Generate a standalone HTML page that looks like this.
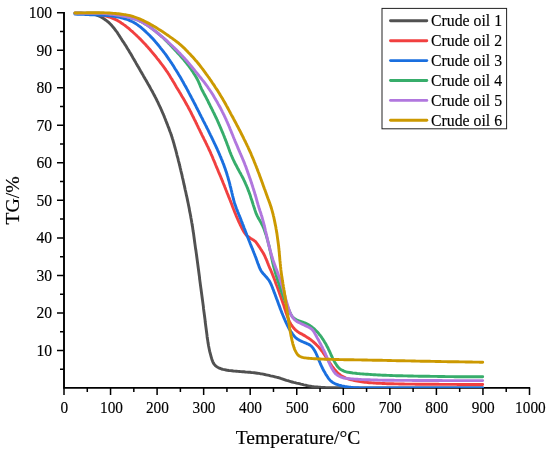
<!DOCTYPE html>
<html><head><meta charset="utf-8"><title>TG curves</title>
<style>
html,body{margin:0;padding:0;background:#fff;}
svg{display:block;}
text{font-family:"Liberation Serif",serif;fill:#000;stroke:#000;stroke-width:0.16px;}
</style></head><body>
<svg width="550" height="455" viewBox="0 0 550 455">
<rect width="550" height="455" fill="#fff"/>

<g stroke="#000" fill="none">
<path stroke-width="1.9" d="M64.0 11.9 V387.90 H530.2"/>
<path stroke-width="1.5" d="M64.00 369.24 h-4.0 M64.00 350.47 h-7.0 M64.00 331.70 h-4.0 M64.00 312.94 h-7.0 M64.00 294.18 h-4.0 M64.00 275.41 h-7.0 M64.00 256.64 h-4.0 M64.00 237.88 h-7.0 M64.00 219.12 h-4.0 M64.00 200.35 h-7.0 M64.00 181.58 h-4.0 M64.00 162.82 h-7.0 M64.00 144.06 h-4.0 M64.00 125.29 h-7.0 M64.00 106.52 h-4.0 M64.00 87.76 h-7.0 M64.00 69.00 h-4.0 M64.00 50.23 h-7.0 M64.00 31.46 h-4.0 M64.00 12.70 h-7.0 M64.00 388.00 v7.0 M87.28 388.00 v4.0 M110.55 388.00 v7.0 M133.82 388.00 v4.0 M157.10 388.00 v7.0 M180.38 388.00 v4.0 M203.65 388.00 v7.0 M226.93 388.00 v4.0 M250.20 388.00 v7.0 M273.48 388.00 v4.0 M296.75 388.00 v7.0 M320.03 388.00 v4.0 M343.30 388.00 v7.0 M366.57 388.00 v4.0 M389.85 388.00 v7.0 M413.12 388.00 v4.0 M436.40 388.00 v7.0 M459.68 388.00 v4.0 M482.95 388.00 v7.0 M506.23 388.00 v4.0 M529.50 388.00 v7.0"/>
</g>
<clipPath id="plotclip"><rect x="60" y="0" width="480" height="388.1"/></clipPath>
<g fill="none" stroke-width="2.9" stroke-linecap="round" stroke-linejoin="round" clip-path="url(#plotclip)">
<path stroke="#515151" d="M75.0 13.2 L77.5 13.2 L78.5 13.3 L79.8 13.3 L81.1 13.3 L82.6 13.4 L84.0 13.4 L85.5 13.5 L87.0 13.6 L88.5 13.7 L90.0 13.8 L91.5 14.0 L93.0 14.2 L94.4 14.5 L95.9 14.8 L97.3 15.3 L98.7 15.9 L100.0 16.5 L101.4 17.2 L102.7 18.0 L103.9 18.8 L105.2 19.7 L106.4 20.5 L107.5 21.5 L108.7 22.4 L109.8 23.5 L110.8 24.5 L111.8 25.6 L112.8 26.8 L113.8 27.9 L114.7 29.1 L115.6 30.3 L116.5 31.5 L117.4 32.7 L118.2 34.0 L119.0 35.2 L119.8 36.5 L120.6 37.8 L121.4 39.0 L122.2 40.3 L123.1 41.6 L123.9 42.8 L124.7 44.1 L125.5 45.3 L126.3 46.6 L127.1 47.9 L127.9 49.2 L128.7 50.4 L129.4 51.7 L130.2 53.0 L131.0 54.3 L131.7 55.6 L132.5 56.9 L133.2 58.2 L134.0 59.5 L134.7 60.8 L135.5 62.1 L136.2 63.4 L137.0 64.7 L137.7 66.0 L138.5 67.3 L139.2 68.6 L140.0 69.9 L140.7 71.2 L141.5 72.5 L142.2 73.8 L143.0 75.1 L143.7 76.4 L144.5 77.7 L145.2 79.0 L146.0 80.3 L146.7 81.6 L147.5 82.9 L148.2 84.2 L149.0 85.5 L149.7 86.8 L150.4 88.1 L151.1 89.4 L151.9 90.7 L152.6 92.0 L153.3 93.4 L154.0 94.7 L154.7 96.0 L155.4 97.4 L156.1 98.7 L156.7 100.0 L157.4 101.4 L158.1 102.7 L158.7 104.1 L159.3 105.4 L160.0 106.8 L160.6 108.2 L161.2 109.5 L161.8 110.9 L162.4 112.3 L163.0 113.7 L163.6 115.0 L164.2 116.4 L164.7 117.8 L165.3 119.2 L165.8 120.6 L166.4 122.0 L166.9 123.4 L167.5 124.8 L168.0 126.2 L168.6 127.6 L169.1 129.0 L169.6 130.4 L170.1 131.8 L170.7 133.2 L171.1 134.6 L171.6 136.0 L172.1 137.5 L172.5 138.9 L173.0 140.3 L173.4 141.8 L173.8 143.2 L174.2 144.7 L174.6 146.1 L175.0 147.5 L175.4 149.0 L175.8 150.4 L176.2 151.9 L176.6 153.4 L176.9 154.8 L177.3 156.3 L177.7 157.7 L178.1 159.2 L178.4 160.6 L178.8 162.1 L179.2 163.5 L179.5 165.0 L179.9 166.4 L180.2 167.9 L180.6 169.4 L180.9 170.8 L181.3 172.3 L181.6 173.7 L182.0 175.2 L182.3 176.7 L182.6 178.1 L183.0 179.6 L183.3 181.0 L183.6 182.5 L183.9 184.0 L184.3 185.4 L184.6 186.9 L184.9 188.4 L185.2 189.8 L185.6 191.3 L185.9 192.8 L186.2 194.2 L186.5 195.7 L186.9 197.2 L187.2 198.6 L187.5 200.1 L187.8 201.6 L188.1 203.0 L188.4 204.5 L188.7 206.0 L189.0 207.4 L189.3 208.9 L189.5 210.4 L189.8 211.9 L190.1 213.3 L190.4 214.8 L190.7 216.3 L190.9 217.8 L191.2 219.2 L191.5 220.7 L191.7 222.2 L192.0 223.7 L192.2 225.1 L192.5 226.6 L192.7 228.1 L192.9 229.6 L193.1 231.1 L193.4 232.6 L193.6 234.0 L193.8 235.5 L194.0 237.0 L194.2 238.5 L194.4 240.0 L194.6 241.5 L194.8 243.0 L195.0 244.4 L195.2 245.9 L195.4 247.4 L195.6 248.9 L195.9 250.4 L196.1 251.9 L196.3 253.4 L196.5 254.8 L196.7 256.3 L196.9 257.8 L197.1 259.3 L197.3 260.8 L197.5 262.3 L197.7 263.8 L197.9 265.2 L198.1 266.7 L198.3 268.2 L198.5 269.7 L198.7 271.2 L198.9 272.7 L199.1 274.2 L199.3 275.7 L199.5 277.1 L199.6 278.6 L199.8 280.1 L200.0 281.6 L200.2 283.1 L200.4 284.6 L200.6 286.1 L200.8 287.6 L201.0 289.0 L201.2 290.5 L201.4 292.0 L201.6 293.5 L201.8 295.0 L202.0 296.5 L202.2 298.0 L202.4 299.5 L202.6 300.9 L202.8 302.4 L203.0 303.9 L203.2 305.4 L203.4 306.9 L203.5 308.4 L203.7 309.9 L203.9 311.4 L204.1 312.8 L204.3 314.3 L204.5 315.8 L204.7 317.3 L204.9 318.8 L205.1 320.3 L205.2 321.8 L205.4 323.3 L205.6 324.7 L205.8 326.2 L206.0 327.7 L206.2 329.2 L206.4 330.7 L206.6 332.2 L206.8 333.7 L207.0 335.2 L207.1 336.7 L207.3 338.1 L207.6 339.6 L207.8 341.1 L208.0 342.6 L208.3 344.1 L208.5 345.5 L208.8 347.0 L209.1 348.5 L209.4 350.0 L209.7 351.4 L210.1 352.9 L210.5 354.3 L210.9 355.8 L211.3 357.3 L211.7 358.7 L212.2 360.2 L212.7 361.6 L213.3 362.9 L214.1 364.1 L215.1 365.3 L216.3 366.3 L217.5 367.2 L218.7 367.8 L220.1 368.4 L221.5 369.0 L223.0 369.4 L224.5 369.7 L226.0 370.0 L227.4 370.3 L228.9 370.5 L230.4 370.6 L231.9 370.8 L233.4 371.0 L234.9 371.1 L236.4 371.2 L237.9 371.4 L239.4 371.5 L240.9 371.6 L242.4 371.7 L243.9 371.8 L245.4 372.0 L246.9 372.1 L248.4 372.2 L249.9 372.3 L251.3 372.5 L252.8 372.6 L254.3 372.8 L255.8 373.0 L257.3 373.2 L258.8 373.4 L260.3 373.7 L261.7 373.9 L263.2 374.2 L264.7 374.5 L266.1 374.8 L267.6 375.1 L269.1 375.4 L270.5 375.8 L272.0 376.1 L273.5 376.4 L274.9 376.8 L276.4 377.2 L277.8 377.5 L279.3 377.9 L280.7 378.4 L282.1 378.8 L283.6 379.3 L285.0 379.8 L286.4 380.3 L287.8 380.7 L289.3 381.2 L290.7 381.6 L292.1 382.0 L293.6 382.4 L295.0 382.7 L296.5 383.1 L298.0 383.4 L299.4 383.7 L300.9 384.1 L302.3 384.4 L303.8 384.8 L305.3 385.1 L306.7 385.5 L308.2 385.8 L309.7 386.1 L311.1 386.3 L312.6 386.6 L314.1 386.8 L315.6 386.9 L317.1 387.0 L318.6 387.2 L320.0 387.3 L321.5 387.4 L323.0 387.4 L324.5 387.5 L326.0 387.6 L327.5 387.6 L329.0 387.7 L330.6 387.7 L332.1 387.7 L333.6 387.8 L335.1 387.8 L336.6 387.8 L338.1 387.8 L339.6 387.8 L341.1 387.8 L342.6 387.8 L344.1 387.8 L345.6 387.8 L347.1 387.8 L348.6 387.8 L350.1 387.8 L351.5 387.9 L353.0 387.9 L354.5 387.9 L356.0 387.9 L357.5 387.9 L359.0 387.9 L360.5 387.9 L362.0 387.9 L363.5 387.9 L365.0 387.9 L366.5 387.9 L368.0 387.9 L369.5 387.9 L371.0 387.9 L372.5 387.9 L374.0 387.9 L375.5 387.9 L377.0 387.9 L378.5 387.9 L380.0 387.9 L381.5 387.9 L383.0 387.9 L384.5 387.9 L386.0 387.9 L387.5 387.9 L389.0 387.9 L390.5 387.9 L392.0 387.9 L393.5 387.9 L395.0 387.9 L396.5 387.9 L398.0 387.9 L399.5 388.0 L401.0 388.0 L402.5 388.0 L404.0 388.0 L405.5 388.0 L407.0 388.0 L408.5 388.0 L410.0 388.0 L411.5 388.0 L413.0 388.0 L414.5 388.0 L416.0 388.0 L417.5 388.0 L419.0 388.0 L420.5 388.0 L422.0 388.0 L423.5 388.0 L425.0 388.0 L426.5 388.0 L428.0 388.0 L429.5 388.0 L431.0 388.0 L432.5 388.0 L434.0 388.0 L435.5 388.0 L437.0 388.0 L438.5 388.0 L440.0 388.0 L441.5 388.0 L443.0 388.0 L444.5 388.0 L446.0 388.0 L447.5 388.0 L449.0 388.0 L450.5 388.0 L452.0 388.0 L453.5 388.0 L455.0 388.0 L456.5 388.0 L458.0 388.0 L459.5 388.0 L461.0 388.0 L462.5 388.0 L464.0 388.0 L465.5 388.0 L467.0 388.0 L468.5 388.0 L470.0 388.0 L471.5 388.0 L473.0 388.0 L474.5 388.0 L476.0 388.0 L477.4 388.0 L478.7 388.0 L479.8 388.0 L480.8 388.0 L482.7 388.0"/>
<path stroke="#F14040" d="M75.0 13.2 L77.5 13.2 L78.5 13.2 L79.8 13.3 L81.1 13.3 L82.6 13.3 L84.0 13.4 L85.5 13.4 L87.0 13.5 L88.5 13.6 L90.0 13.6 L91.5 13.8 L93.0 13.9 L94.5 14.0 L96.0 14.2 L97.4 14.4 L98.9 14.6 L100.4 14.9 L101.9 15.2 L103.3 15.5 L104.8 15.8 L106.2 16.2 L107.7 16.6 L109.1 17.0 L110.5 17.5 L112.0 18.0 L113.3 18.6 L114.7 19.2 L116.1 19.8 L117.4 20.5 L118.7 21.3 L120.0 22.0 L121.2 22.9 L122.5 23.7 L123.7 24.6 L124.9 25.4 L126.1 26.4 L127.3 27.3 L128.4 28.2 L129.6 29.2 L130.7 30.2 L131.8 31.2 L133.0 32.2 L134.1 33.2 L135.2 34.2 L136.3 35.2 L137.3 36.3 L138.4 37.3 L139.5 38.4 L140.6 39.4 L141.6 40.5 L142.6 41.6 L143.7 42.7 L144.7 43.7 L145.7 44.8 L146.7 46.0 L147.7 47.1 L148.7 48.2 L149.7 49.3 L150.7 50.5 L151.6 51.6 L152.6 52.8 L153.6 53.9 L154.5 55.1 L155.5 56.2 L156.4 57.4 L157.3 58.6 L158.3 59.8 L159.2 60.9 L160.1 62.1 L161.0 63.3 L161.9 64.5 L162.8 65.7 L163.7 66.9 L164.6 68.1 L165.5 69.4 L166.3 70.6 L167.2 71.8 L168.0 73.1 L168.8 74.3 L169.6 75.6 L170.4 76.9 L171.2 78.2 L172.0 79.4 L172.7 80.7 L173.5 82.0 L174.3 83.3 L175.0 84.6 L175.8 85.9 L176.5 87.2 L177.3 88.5 L178.1 89.8 L178.9 91.1 L179.6 92.3 L180.4 93.6 L181.2 94.9 L181.9 96.2 L182.7 97.5 L183.5 98.8 L184.2 100.1 L185.0 101.4 L185.7 102.7 L186.4 104.0 L187.1 105.3 L187.9 106.6 L188.6 108.0 L189.3 109.3 L190.0 110.6 L190.7 111.9 L191.3 113.3 L192.0 114.6 L192.7 116.0 L193.4 117.3 L194.0 118.6 L194.7 120.0 L195.4 121.3 L196.0 122.7 L196.7 124.0 L197.3 125.4 L198.0 126.7 L198.6 128.1 L199.3 129.4 L200.0 130.8 L200.6 132.1 L201.3 133.5 L201.9 134.8 L202.6 136.2 L203.3 137.5 L203.9 138.8 L204.6 140.2 L205.3 141.5 L205.9 142.9 L206.6 144.2 L207.2 145.6 L207.9 146.9 L208.5 148.3 L209.1 149.7 L209.8 151.0 L210.4 152.4 L211.0 153.8 L211.6 155.1 L212.2 156.5 L212.8 157.9 L213.3 159.3 L213.9 160.7 L214.5 162.0 L215.1 163.4 L215.6 164.8 L216.2 166.2 L216.8 167.6 L217.4 169.0 L218.0 170.4 L218.5 171.7 L219.1 173.1 L219.7 174.5 L220.3 175.9 L220.9 177.3 L221.4 178.7 L222.0 180.0 L222.6 181.4 L223.1 182.8 L223.7 184.2 L224.3 185.6 L224.8 187.0 L225.4 188.4 L225.9 189.8 L226.5 191.2 L227.0 192.6 L227.6 194.0 L228.2 195.4 L228.7 196.8 L229.3 198.1 L229.8 199.5 L230.4 200.9 L230.9 202.3 L231.5 203.7 L232.0 205.1 L232.5 206.5 L233.1 207.9 L233.6 209.3 L234.2 210.7 L234.7 212.1 L235.3 213.5 L235.9 214.9 L236.4 216.3 L237.0 217.7 L237.6 219.0 L238.2 220.4 L238.8 221.8 L239.5 223.2 L240.1 224.5 L240.8 225.9 L241.4 227.2 L242.1 228.6 L242.8 229.9 L243.6 231.2 L244.3 232.4 L245.2 233.7 L246.1 234.9 L247.2 236.0 L248.3 236.8 L249.6 237.6 L250.8 238.4 L252.1 239.2 L253.3 239.9 L254.5 240.8 L255.6 241.7 L256.5 242.9 L257.4 244.1 L258.3 245.4 L259.1 246.7 L260.0 247.9 L260.8 249.2 L261.6 250.4 L262.4 251.7 L263.2 253.0 L263.9 254.3 L264.6 255.6 L265.2 257.0 L265.8 258.4 L266.4 259.7 L267.0 261.1 L267.5 262.5 L268.1 263.9 L268.6 265.3 L269.2 266.7 L269.8 268.1 L270.4 269.4 L271.0 270.8 L271.6 272.2 L272.2 273.6 L272.7 275.0 L273.3 276.4 L273.8 277.8 L274.4 279.2 L274.9 280.6 L275.4 282.0 L275.9 283.4 L276.4 284.8 L277.0 286.2 L277.5 287.6 L278.0 289.0 L278.5 290.4 L279.0 291.9 L279.5 293.3 L280.0 294.7 L280.5 296.1 L281.0 297.5 L281.5 298.9 L282.0 300.3 L282.5 301.8 L283.0 303.2 L283.5 304.6 L284.0 306.1 L284.4 307.5 L284.9 309.0 L285.4 310.4 L285.8 311.9 L286.3 313.3 L286.8 314.7 L287.3 316.2 L287.8 317.6 L288.4 318.9 L288.9 320.3 L289.5 321.6 L290.2 322.9 L290.9 324.2 L291.7 325.4 L292.6 326.7 L293.5 327.8 L294.6 329.0 L295.7 330.1 L296.8 331.0 L298.0 331.9 L299.2 332.7 L300.5 333.4 L301.9 334.1 L303.2 334.9 L304.5 335.6 L305.8 336.4 L307.0 337.2 L308.3 338.0 L309.5 338.8 L310.7 339.7 L311.9 340.7 L313.1 341.6 L314.2 342.6 L315.3 343.6 L316.4 344.7 L317.4 345.7 L318.5 346.8 L319.4 348.0 L320.4 349.1 L321.3 350.3 L322.2 351.5 L323.1 352.7 L323.9 353.9 L324.8 355.2 L325.6 356.4 L326.4 357.7 L327.2 359.0 L328.1 360.2 L328.9 361.5 L329.7 362.7 L330.6 364.0 L331.4 365.2 L332.3 366.5 L333.2 367.7 L334.1 368.8 L335.0 370.0 L336.0 371.1 L337.1 372.2 L338.2 373.2 L339.3 374.2 L340.5 375.1 L341.8 376.0 L343.0 376.7 L344.4 377.3 L345.7 378.0 L347.1 378.5 L348.6 379.0 L350.0 379.5 L351.5 379.9 L352.9 380.2 L354.4 380.6 L355.8 380.9 L357.3 381.1 L358.8 381.4 L360.3 381.6 L361.7 381.9 L363.2 382.1 L364.7 382.2 L366.2 382.4 L367.7 382.5 L369.2 382.7 L370.7 382.8 L372.2 382.9 L373.7 383.0 L375.2 383.1 L376.7 383.2 L378.2 383.3 L379.7 383.3 L381.2 383.4 L382.7 383.5 L384.2 383.5 L385.7 383.6 L387.2 383.7 L388.7 383.7 L390.2 383.8 L391.7 383.8 L393.2 383.8 L394.7 383.9 L396.2 383.9 L397.7 383.9 L399.2 384.0 L400.7 384.0 L402.2 384.0 L403.7 384.0 L405.2 384.1 L406.7 384.1 L408.2 384.1 L409.7 384.1 L411.2 384.1 L412.7 384.1 L414.2 384.1 L415.7 384.2 L417.2 384.2 L418.7 384.2 L420.2 384.2 L421.7 384.2 L423.2 384.2 L424.7 384.2 L426.2 384.3 L427.7 384.3 L429.2 384.3 L430.7 384.3 L432.2 384.3 L433.7 384.3 L435.2 384.3 L436.7 384.3 L438.2 384.3 L439.7 384.4 L441.2 384.4 L442.7 384.4 L444.2 384.4 L445.7 384.4 L447.2 384.4 L448.7 384.4 L450.2 384.4 L451.7 384.4 L453.2 384.4 L454.7 384.4 L456.2 384.4 L457.7 384.5 L459.2 384.5 L460.7 384.5 L462.2 384.5 L463.7 384.5 L465.2 384.5 L466.7 384.5 L468.2 384.5 L469.7 384.5 L471.2 384.5 L472.7 384.5 L474.2 384.5 L475.6 384.5 L477.0 384.5 L478.4 384.5 L479.5 384.5 L480.6 384.5 L482.7 384.5"/>
<path stroke="#1A6FDF" d="M75.0 14.1 L77.5 14.2 L78.5 14.2 L79.8 14.3 L81.1 14.3 L82.5 14.4 L84.0 14.4 L85.5 14.5 L87.0 14.5 L88.5 14.6 L90.0 14.7 L91.5 14.7 L93.0 14.8 L94.5 14.9 L96.0 14.9 L97.5 15.0 L99.0 15.1 L100.5 15.2 L102.0 15.2 L103.5 15.3 L105.0 15.4 L106.5 15.5 L108.0 15.6 L109.5 15.8 L111.0 15.9 L112.4 16.1 L113.9 16.3 L115.4 16.5 L116.9 16.8 L118.3 17.1 L119.8 17.4 L121.3 17.8 L122.7 18.2 L124.1 18.6 L125.6 19.0 L127.0 19.5 L128.4 20.0 L129.8 20.6 L131.2 21.2 L132.5 21.8 L133.8 22.5 L135.1 23.3 L136.4 24.1 L137.6 24.9 L138.8 25.8 L140.0 26.7 L141.2 27.7 L142.3 28.6 L143.5 29.6 L144.6 30.6 L145.7 31.6 L146.8 32.7 L147.9 33.7 L148.9 34.7 L150.0 35.8 L151.0 36.9 L152.1 38.0 L153.1 39.1 L154.1 40.2 L155.1 41.3 L156.0 42.5 L157.0 43.6 L158.0 44.8 L158.9 45.9 L159.9 47.1 L160.8 48.3 L161.7 49.4 L162.7 50.6 L163.6 51.8 L164.5 53.0 L165.4 54.2 L166.3 55.4 L167.1 56.6 L168.0 57.9 L168.8 59.1 L169.7 60.3 L170.5 61.6 L171.4 62.8 L172.2 64.1 L173.0 65.3 L173.8 66.6 L174.6 67.9 L175.4 69.2 L176.2 70.4 L177.0 71.7 L177.8 73.0 L178.5 74.3 L179.3 75.6 L180.1 76.8 L180.8 78.1 L181.6 79.4 L182.3 80.7 L183.1 82.0 L183.8 83.4 L184.5 84.7 L185.3 86.0 L186.0 87.3 L186.7 88.6 L187.4 89.9 L188.1 91.2 L188.8 92.6 L189.5 93.9 L190.2 95.2 L190.9 96.5 L191.6 97.9 L192.3 99.2 L193.0 100.5 L193.7 101.9 L194.4 103.2 L195.1 104.5 L195.8 105.9 L196.4 107.2 L197.1 108.5 L197.8 109.9 L198.5 111.2 L199.2 112.6 L199.8 113.9 L200.5 115.2 L201.2 116.6 L201.9 117.9 L202.6 119.2 L203.2 120.6 L203.9 121.9 L204.6 123.2 L205.3 124.6 L206.0 125.9 L206.6 127.3 L207.3 128.6 L208.0 129.9 L208.7 131.3 L209.3 132.6 L210.0 134.0 L210.6 135.3 L211.3 136.7 L211.9 138.0 L212.6 139.4 L213.2 140.7 L213.9 142.1 L214.5 143.4 L215.2 144.8 L215.8 146.2 L216.4 147.5 L217.1 148.9 L217.7 150.3 L218.3 151.6 L218.9 153.0 L219.5 154.4 L220.1 155.8 L220.7 157.1 L221.2 158.5 L221.8 159.9 L222.4 161.3 L222.9 162.7 L223.5 164.1 L224.0 165.5 L224.5 166.9 L225.0 168.3 L225.5 169.7 L226.0 171.2 L226.5 172.6 L226.9 174.0 L227.3 175.4 L227.8 176.9 L228.2 178.3 L228.6 179.8 L229.0 181.2 L229.4 182.7 L229.8 184.1 L230.1 185.6 L230.5 187.0 L230.9 188.5 L231.2 189.9 L231.6 191.4 L231.9 192.8 L232.3 194.3 L232.6 195.8 L233.0 197.2 L233.3 198.7 L233.7 200.1 L234.1 201.6 L234.5 203.0 L235.0 204.4 L235.5 205.8 L236.0 207.3 L236.5 208.7 L237.1 210.1 L237.6 211.5 L238.2 212.8 L238.7 214.2 L239.3 215.6 L239.9 217.0 L240.4 218.4 L241.0 219.8 L241.5 221.2 L242.1 222.6 L242.6 224.0 L243.2 225.4 L243.7 226.8 L244.2 228.2 L244.8 229.6 L245.3 231.0 L245.8 232.4 L246.4 233.8 L246.9 235.2 L247.5 236.6 L248.0 238.0 L248.6 239.4 L249.1 240.8 L249.7 242.2 L250.2 243.6 L250.8 245.0 L251.3 246.4 L251.9 247.7 L252.5 249.1 L253.0 250.5 L253.6 251.9 L254.1 253.3 L254.7 254.7 L255.2 256.1 L255.8 257.5 L256.3 258.9 L256.8 260.4 L257.3 261.8 L257.8 263.2 L258.4 264.6 L258.9 266.0 L259.4 267.4 L260.0 268.8 L260.7 270.1 L261.4 271.4 L262.3 272.5 L263.3 273.7 L264.3 274.8 L265.3 275.9 L266.3 277.0 L267.3 278.2 L268.2 279.3 L269.1 280.5 L269.8 281.8 L270.5 283.1 L271.1 284.4 L271.7 285.8 L272.3 287.2 L272.8 288.6 L273.4 290.0 L273.9 291.4 L274.4 292.9 L275.0 294.3 L275.5 295.7 L276.0 297.1 L276.5 298.5 L277.1 299.9 L277.6 301.3 L278.1 302.7 L278.6 304.1 L279.2 305.6 L279.7 307.0 L280.2 308.4 L280.7 309.8 L281.3 311.2 L281.8 312.6 L282.4 314.0 L282.9 315.3 L283.5 316.7 L284.1 318.1 L284.7 319.5 L285.3 320.9 L285.9 322.3 L286.6 323.6 L287.2 325.0 L287.9 326.3 L288.6 327.7 L289.3 329.0 L290.1 330.3 L290.8 331.5 L291.7 332.7 L292.6 334.0 L293.5 335.2 L294.5 336.4 L295.5 337.5 L296.6 338.5 L297.8 339.3 L299.1 340.1 L300.4 340.7 L301.8 341.4 L303.2 342.0 L304.6 342.6 L306.0 343.2 L307.4 343.8 L308.7 344.4 L310.0 345.1 L311.1 346.0 L312.1 347.0 L313.0 348.2 L313.9 349.5 L314.7 350.8 L315.5 352.2 L316.1 353.5 L316.7 354.8 L317.3 356.2 L317.9 357.6 L318.5 359.0 L319.0 360.4 L319.6 361.8 L320.2 363.2 L320.8 364.6 L321.4 365.9 L322.1 367.3 L322.7 368.6 L323.4 370.0 L324.1 371.3 L324.9 372.6 L325.6 373.9 L326.4 375.2 L327.3 376.5 L328.1 377.8 L329.1 379.1 L330.0 380.2 L331.1 381.2 L332.2 382.1 L333.3 382.8 L334.7 383.5 L336.0 384.1 L337.5 384.6 L339.0 385.1 L340.4 385.5 L341.9 385.9 L343.4 386.2 L344.8 386.5 L346.3 386.7 L347.8 386.9 L349.3 387.1 L350.8 387.3 L352.3 387.4 L353.8 387.6 L355.3 387.7 L356.8 387.7 L358.3 387.8 L359.8 387.9 L361.3 387.9 L362.8 387.9 L364.3 388.0 L365.8 388.0 L367.3 388.0 L368.8 388.0 L370.3 388.0 L371.8 388.0 L373.3 388.0 L374.8 388.0 L376.3 388.0 L377.8 388.0 L379.3 388.0 L380.8 388.0 L382.3 388.0 L383.8 388.0 L385.3 388.0 L386.8 388.0 L388.3 388.0 L389.8 388.0 L391.3 388.0 L392.8 388.0 L394.3 388.0 L395.8 388.0 L397.3 388.0 L398.8 388.0 L400.3 388.0 L401.8 388.0 L403.3 388.0 L404.8 388.0 L406.3 388.0 L407.8 388.0 L409.3 388.0 L410.8 388.0 L412.3 388.0 L413.8 388.0 L415.3 388.0 L416.8 388.0 L418.3 388.0 L419.8 388.0 L421.3 388.0 L422.8 388.0 L424.3 388.0 L425.8 388.0 L427.3 388.0 L428.8 388.0 L430.3 388.0 L431.8 388.0 L433.3 388.0 L434.8 388.0 L436.3 388.0 L437.8 388.0 L439.3 388.0 L440.8 388.0 L442.3 388.0 L443.8 388.0 L445.3 388.0 L446.8 388.0 L448.3 388.0 L449.8 388.0 L451.3 388.0 L452.8 388.0 L454.3 388.0 L455.8 388.0 L457.3 388.0 L458.8 388.0 L460.3 388.0 L461.8 388.0 L463.3 388.0 L464.8 388.0 L466.3 388.0 L467.8 388.0 L469.3 388.0 L470.8 388.0 L472.3 388.0 L473.8 388.0 L475.2 388.0 L476.6 388.0 L478.0 388.0 L479.2 388.0 L480.3 388.0 L482.7 388.0"/>
<path stroke="#37AD6B" d="M75.0 13.2 L77.5 13.2 L78.5 13.2 L79.8 13.2 L81.1 13.2 L82.6 13.2 L84.0 13.2 L85.5 13.2 L87.0 13.2 L88.5 13.2 L90.0 13.2 L91.5 13.2 L93.0 13.3 L94.5 13.3 L96.0 13.3 L97.5 13.3 L99.0 13.3 L100.5 13.4 L102.0 13.4 L103.5 13.5 L105.0 13.6 L106.5 13.7 L108.0 13.9 L109.5 14.0 L111.0 14.2 L112.4 14.4 L113.9 14.6 L115.4 14.8 L116.9 15.1 L118.4 15.3 L119.9 15.5 L121.4 15.8 L122.8 16.0 L124.3 16.3 L125.8 16.6 L127.2 16.9 L128.7 17.3 L130.2 17.7 L131.6 18.1 L133.0 18.5 L134.5 18.9 L135.9 19.4 L137.3 20.0 L138.7 20.5 L140.0 21.2 L141.3 21.8 L142.7 22.5 L144.0 23.2 L145.2 24.0 L146.5 24.8 L147.8 25.6 L149.0 26.4 L150.2 27.3 L151.5 28.2 L152.7 29.1 L153.9 30.0 L155.1 31.0 L156.2 31.9 L157.4 32.9 L158.6 33.9 L159.7 34.8 L160.8 35.8 L162.0 36.8 L163.1 37.8 L164.2 38.8 L165.2 39.9 L166.3 40.9 L167.4 42.0 L168.4 43.1 L169.5 44.1 L170.5 45.2 L171.5 46.3 L172.6 47.4 L173.6 48.5 L174.6 49.6 L175.7 50.7 L176.7 51.8 L177.7 52.9 L178.7 54.0 L179.7 55.1 L180.7 56.2 L181.7 57.4 L182.7 58.5 L183.7 59.6 L184.6 60.8 L185.6 62.0 L186.5 63.1 L187.4 64.3 L188.3 65.5 L189.2 66.7 L190.1 67.9 L191.0 69.1 L191.8 70.4 L192.7 71.6 L193.5 72.9 L194.3 74.2 L195.1 75.4 L195.9 76.7 L196.6 78.0 L197.3 79.3 L198.0 80.7 L198.6 82.0 L199.2 83.4 L199.8 84.8 L200.3 86.1 L200.9 87.5 L201.5 88.9 L202.2 90.2 L202.9 91.5 L203.6 92.9 L204.3 94.2 L205.0 95.5 L205.7 96.8 L206.4 98.1 L207.1 99.5 L207.8 100.8 L208.4 102.2 L209.1 103.5 L209.8 104.9 L210.4 106.2 L211.1 107.5 L211.8 108.9 L212.5 110.2 L213.1 111.6 L213.8 112.9 L214.4 114.3 L215.1 115.6 L215.7 117.0 L216.4 118.3 L217.0 119.7 L217.6 121.0 L218.2 122.4 L218.8 123.8 L219.4 125.2 L220.0 126.5 L220.6 127.9 L221.2 129.3 L221.8 130.7 L222.4 132.1 L223.0 133.5 L223.5 134.8 L224.1 136.2 L224.6 137.6 L225.2 139.0 L225.7 140.4 L226.3 141.8 L226.8 143.2 L227.3 144.6 L227.9 146.0 L228.4 147.4 L228.9 148.9 L229.4 150.3 L229.9 151.7 L230.5 153.1 L231.0 154.5 L231.6 155.8 L232.2 157.2 L232.8 158.6 L233.4 159.9 L234.1 161.3 L234.7 162.6 L235.4 164.0 L236.1 165.3 L236.8 166.6 L237.5 168.0 L238.2 169.3 L238.9 170.6 L239.6 171.9 L240.4 173.2 L241.1 174.6 L241.8 175.9 L242.5 177.2 L243.2 178.5 L243.8 179.9 L244.5 181.2 L245.1 182.6 L245.7 184.0 L246.3 185.3 L246.9 186.7 L247.5 188.1 L248.0 189.5 L248.5 190.9 L249.1 192.3 L249.6 193.7 L250.1 195.1 L250.6 196.6 L251.0 198.0 L251.5 199.4 L252.0 200.8 L252.4 202.3 L252.9 203.7 L253.3 205.1 L253.8 206.6 L254.3 208.0 L254.7 209.4 L255.2 210.9 L255.7 212.3 L256.2 213.7 L256.8 215.0 L257.5 216.4 L258.2 217.7 L258.9 219.0 L259.7 220.3 L260.4 221.6 L261.1 222.9 L261.8 224.2 L262.5 225.5 L263.1 226.9 L263.7 228.3 L264.2 229.6 L264.7 231.1 L265.2 232.5 L265.7 233.9 L266.2 235.3 L266.6 236.8 L267.0 238.2 L267.4 239.7 L267.8 241.1 L268.2 242.6 L268.6 244.0 L268.9 245.5 L269.3 246.9 L269.6 248.4 L269.9 249.9 L270.3 251.3 L270.6 252.8 L270.9 254.3 L271.2 255.7 L271.5 257.2 L271.8 258.7 L272.2 260.1 L272.5 261.6 L272.8 263.1 L273.2 264.5 L273.5 266.0 L273.9 267.4 L274.3 268.9 L274.7 270.3 L275.1 271.8 L275.5 273.2 L275.9 274.6 L276.4 276.1 L276.8 277.5 L277.3 278.9 L277.7 280.4 L278.2 281.8 L278.7 283.2 L279.2 284.6 L279.6 286.1 L280.1 287.5 L280.6 288.9 L281.1 290.3 L281.6 291.7 L282.1 293.1 L282.6 294.5 L283.2 296.0 L283.7 297.4 L284.2 298.8 L284.8 300.2 L285.3 301.6 L285.9 303.0 L286.5 304.3 L287.0 305.7 L287.6 307.1 L288.2 308.5 L288.9 309.9 L289.5 311.3 L290.1 312.7 L290.8 314.1 L291.5 315.4 L292.3 316.6 L293.2 317.6 L294.4 318.5 L295.7 319.3 L297.0 320.0 L298.4 320.6 L299.8 321.1 L301.2 321.6 L302.7 322.1 L304.1 322.7 L305.4 323.2 L306.8 323.8 L308.2 324.5 L309.4 325.2 L310.7 326.1 L311.9 327.0 L313.0 327.9 L314.2 328.9 L315.3 330.0 L316.3 331.0 L317.4 332.1 L318.4 333.2 L319.3 334.4 L320.3 335.5 L321.1 336.7 L322.0 337.9 L322.8 339.2 L323.7 340.5 L324.4 341.7 L325.2 343.0 L326.0 344.3 L326.7 345.7 L327.4 347.0 L328.1 348.3 L328.7 349.7 L329.4 351.0 L330.0 352.4 L330.6 353.8 L331.2 355.2 L331.9 356.5 L332.5 357.9 L333.2 359.2 L333.9 360.6 L334.6 361.9 L335.4 363.2 L336.2 364.5 L337.0 365.8 L338.0 367.0 L339.0 368.1 L340.0 369.0 L341.2 369.7 L342.6 370.4 L344.0 371.1 L345.4 371.6 L346.9 372.0 L348.3 372.3 L349.8 372.5 L351.3 372.7 L352.7 373.0 L354.2 373.1 L355.7 373.3 L357.2 373.5 L358.7 373.6 L360.2 373.8 L361.7 373.9 L363.2 374.0 L364.7 374.1 L366.2 374.2 L367.7 374.3 L369.2 374.4 L370.7 374.5 L372.2 374.6 L373.7 374.7 L375.2 374.8 L376.7 374.9 L378.2 375.0 L379.7 375.0 L381.2 375.1 L382.7 375.2 L384.2 375.2 L385.7 375.3 L387.2 375.4 L388.7 375.4 L390.2 375.5 L391.7 375.5 L393.2 375.6 L394.7 375.6 L396.2 375.7 L397.7 375.7 L399.2 375.8 L400.7 375.8 L402.2 375.8 L403.7 375.9 L405.2 375.9 L406.7 375.9 L408.2 376.0 L409.7 376.0 L411.2 376.0 L412.7 376.0 L414.2 376.1 L415.7 376.1 L417.2 376.1 L418.7 376.2 L420.2 376.2 L421.7 376.2 L423.2 376.2 L424.7 376.3 L426.2 376.3 L427.7 376.3 L429.2 376.3 L430.7 376.4 L432.2 376.4 L433.7 376.4 L435.2 376.4 L436.7 376.4 L438.2 376.5 L439.7 376.5 L441.2 376.5 L442.7 376.5 L444.2 376.5 L445.7 376.6 L447.2 376.6 L448.7 376.6 L450.2 376.6 L451.7 376.6 L453.2 376.6 L454.7 376.7 L456.2 376.7 L457.7 376.7 L459.2 376.7 L460.7 376.7 L462.2 376.7 L463.7 376.7 L465.2 376.7 L466.7 376.8 L468.2 376.8 L469.7 376.8 L471.2 376.8 L472.7 376.8 L474.2 376.8 L475.7 376.8 L477.1 376.8 L478.4 376.8 L479.6 376.8 L480.6 376.8 L482.7 376.8"/>
<path stroke="#B177DE" d="M75.0 13.2 L77.5 13.2 L78.5 13.2 L79.8 13.2 L81.1 13.2 L82.6 13.2 L84.0 13.2 L85.5 13.2 L87.0 13.2 L88.5 13.2 L90.0 13.2 L91.5 13.2 L93.0 13.3 L94.5 13.3 L96.0 13.3 L97.5 13.3 L99.0 13.3 L100.5 13.4 L102.0 13.4 L103.5 13.5 L105.0 13.6 L106.5 13.7 L108.0 13.9 L109.5 14.0 L111.0 14.2 L112.4 14.4 L113.9 14.6 L115.4 14.8 L116.9 15.1 L118.4 15.3 L119.9 15.5 L121.4 15.8 L122.8 16.0 L124.3 16.3 L125.8 16.6 L127.2 16.9 L128.7 17.3 L130.2 17.7 L131.6 18.1 L133.0 18.5 L134.5 18.9 L135.9 19.4 L137.3 20.0 L138.7 20.5 L140.0 21.2 L141.3 21.8 L142.6 22.5 L143.9 23.2 L145.2 24.0 L146.5 24.8 L147.7 25.6 L149.0 26.5 L150.2 27.3 L151.4 28.2 L152.6 29.2 L153.8 30.1 L155.0 31.0 L156.2 32.0 L157.4 32.9 L158.6 33.9 L159.7 34.8 L160.9 35.8 L162.0 36.7 L163.2 37.7 L164.3 38.7 L165.5 39.6 L166.6 40.6 L167.7 41.6 L168.8 42.7 L169.9 43.7 L171.0 44.7 L172.1 45.7 L173.2 46.8 L174.3 47.8 L175.3 48.9 L176.4 49.9 L177.5 51.0 L178.5 52.1 L179.6 53.1 L180.6 54.2 L181.6 55.3 L182.7 56.4 L183.7 57.5 L184.7 58.6 L185.7 59.7 L186.7 60.8 L187.7 62.0 L188.6 63.1 L189.6 64.2 L190.6 65.4 L191.5 66.5 L192.5 67.7 L193.5 68.9 L194.4 70.0 L195.3 71.2 L196.3 72.4 L197.2 73.5 L198.2 74.7 L199.1 75.9 L200.0 77.0 L201.0 78.2 L201.9 79.4 L202.9 80.6 L203.8 81.7 L204.7 82.9 L205.6 84.1 L206.5 85.3 L207.4 86.5 L208.2 87.8 L209.1 89.0 L209.9 90.2 L210.8 91.5 L211.6 92.7 L212.4 94.0 L213.2 95.3 L213.9 96.6 L214.7 97.9 L215.5 99.2 L216.2 100.5 L217.0 101.8 L217.7 103.1 L218.4 104.4 L219.2 105.7 L219.9 107.0 L220.6 108.3 L221.3 109.7 L222.0 111.0 L222.6 112.3 L223.3 113.7 L224.0 115.0 L224.6 116.4 L225.2 117.7 L225.9 119.1 L226.5 120.5 L227.1 121.8 L227.7 123.2 L228.3 124.6 L228.9 126.0 L229.5 127.3 L230.0 128.7 L230.6 130.1 L231.2 131.5 L231.7 132.9 L232.3 134.3 L232.9 135.7 L233.4 137.1 L234.0 138.5 L234.6 139.8 L235.1 141.2 L235.7 142.6 L236.3 144.0 L236.9 145.4 L237.5 146.8 L238.0 148.2 L238.6 149.5 L239.2 150.9 L239.8 152.3 L240.4 153.7 L241.0 155.0 L241.6 156.4 L242.2 157.8 L242.8 159.2 L243.4 160.6 L243.9 161.9 L244.5 163.3 L245.0 164.7 L245.6 166.1 L246.1 167.5 L246.6 168.9 L247.1 170.3 L247.6 171.8 L248.1 173.2 L248.6 174.6 L249.1 176.0 L249.6 177.4 L250.1 178.8 L250.6 180.3 L251.1 181.7 L251.5 183.1 L252.0 184.5 L252.5 186.0 L252.9 187.4 L253.4 188.8 L253.8 190.3 L254.3 191.7 L254.7 193.1 L255.1 194.6 L255.6 196.0 L256.0 197.4 L256.4 198.9 L256.8 200.3 L257.2 201.8 L257.6 203.2 L258.0 204.7 L258.5 206.1 L258.9 207.5 L259.4 209.0 L259.8 210.4 L260.3 211.8 L260.8 213.2 L261.2 214.7 L261.7 216.1 L262.1 217.5 L262.5 219.0 L262.9 220.4 L263.3 221.8 L263.7 223.3 L264.1 224.8 L264.4 226.2 L264.8 227.7 L265.1 229.1 L265.4 230.6 L265.8 232.1 L266.1 233.5 L266.4 235.0 L266.8 236.4 L267.1 237.9 L267.4 239.4 L267.8 240.8 L268.1 242.3 L268.5 243.8 L268.8 245.2 L269.2 246.7 L269.6 248.1 L270.0 249.6 L270.4 251.0 L270.8 252.5 L271.2 253.9 L271.6 255.3 L272.0 256.8 L272.5 258.2 L272.9 259.6 L273.4 261.1 L273.9 262.5 L274.4 263.9 L274.9 265.3 L275.4 266.7 L275.9 268.1 L276.5 269.5 L277.0 270.9 L277.5 272.3 L278.0 273.7 L278.5 275.1 L279.1 276.6 L279.6 278.0 L280.0 279.4 L280.5 280.8 L281.0 282.2 L281.4 283.7 L281.8 285.1 L282.3 286.5 L282.7 288.0 L283.1 289.4 L283.5 290.9 L283.9 292.3 L284.3 293.8 L284.7 295.2 L285.1 296.7 L285.5 298.1 L285.9 299.6 L286.3 301.0 L286.7 302.5 L287.2 303.9 L287.6 305.4 L288.0 306.8 L288.5 308.3 L289.0 309.7 L289.5 311.1 L290.0 312.5 L290.6 313.8 L291.3 315.1 L292.1 316.4 L292.9 317.7 L293.9 318.9 L294.9 320.0 L296.0 320.9 L297.2 321.7 L298.6 322.4 L299.9 323.0 L301.3 323.7 L302.7 324.4 L304.1 325.0 L305.4 325.7 L306.8 326.3 L308.2 327.0 L309.6 327.7 L310.8 328.4 L311.9 329.3 L312.8 330.3 L313.7 331.5 L314.5 332.8 L315.2 334.1 L316.0 335.5 L316.7 336.8 L317.4 338.2 L318.2 339.5 L318.9 340.8 L319.6 342.2 L320.3 343.5 L321.0 344.8 L321.7 346.2 L322.4 347.5 L323.0 348.8 L323.7 350.2 L324.3 351.5 L325.0 352.9 L325.6 354.3 L326.2 355.7 L326.8 357.0 L327.3 358.4 L327.9 359.8 L328.5 361.2 L329.1 362.6 L329.7 364.0 L330.3 365.3 L331.0 366.7 L331.6 368.0 L332.4 369.3 L333.2 370.6 L334.1 371.9 L335.0 373.1 L336.0 374.1 L337.1 375.0 L338.4 375.8 L339.7 376.5 L341.2 377.2 L342.6 377.6 L344.0 378.0 L345.5 378.2 L346.9 378.4 L348.4 378.6 L349.9 378.7 L351.4 378.9 L352.9 379.0 L354.4 379.1 L355.9 379.2 L357.4 379.3 L358.9 379.4 L360.5 379.5 L362.0 379.6 L363.5 379.6 L365.0 379.7 L366.5 379.7 L368.0 379.8 L369.5 379.8 L371.0 379.9 L372.5 379.9 L374.0 380.0 L375.5 380.0 L377.0 380.0 L378.5 380.1 L380.0 380.1 L381.5 380.1 L383.0 380.2 L384.5 380.2 L386.0 380.2 L387.5 380.3 L389.0 380.3 L390.5 380.3 L392.0 380.3 L393.5 380.3 L395.0 380.4 L396.5 380.4 L398.0 380.4 L399.5 380.4 L401.0 380.4 L402.5 380.4 L404.0 380.4 L405.5 380.4 L407.0 380.4 L408.5 380.4 L410.0 380.4 L411.5 380.4 L413.0 380.5 L414.5 380.5 L416.0 380.5 L417.5 380.5 L419.0 380.5 L420.5 380.5 L422.0 380.5 L423.5 380.5 L425.0 380.5 L426.5 380.5 L428.0 380.5 L429.5 380.5 L431.0 380.5 L432.5 380.5 L434.0 380.5 L435.5 380.5 L437.0 380.5 L438.5 380.5 L440.0 380.5 L441.5 380.5 L443.0 380.6 L444.5 380.6 L446.0 380.6 L447.5 380.6 L449.0 380.6 L450.5 380.6 L452.0 380.6 L453.5 380.6 L455.0 380.6 L456.5 380.6 L458.0 380.6 L459.5 380.6 L461.0 380.6 L462.5 380.6 L464.0 380.6 L465.5 380.6 L467.0 380.6 L468.5 380.6 L470.0 380.6 L471.5 380.6 L473.0 380.6 L474.4 380.6 L475.9 380.6 L477.3 380.6 L478.6 380.6 L479.7 380.6 L480.7 380.6 L482.7 380.6"/>
<path stroke="#CC9900" d="M75.0 13.0 L77.5 13.0 L78.5 12.9 L79.8 12.9 L81.1 12.9 L82.6 12.9 L84.0 12.9 L85.5 12.9 L87.0 12.8 L88.5 12.8 L90.0 12.8 L91.5 12.8 L93.0 12.8 L94.5 12.8 L96.0 12.8 L97.5 12.8 L99.0 12.8 L100.5 12.8 L102.0 12.8 L103.5 12.8 L105.0 12.9 L106.5 12.9 L108.0 13.0 L109.5 13.0 L111.0 13.1 L112.5 13.3 L114.0 13.4 L115.5 13.5 L117.0 13.7 L118.5 13.8 L120.0 14.0 L121.4 14.2 L122.9 14.4 L124.4 14.6 L125.9 14.8 L127.4 15.1 L128.8 15.4 L130.3 15.7 L131.7 16.1 L133.2 16.5 L134.6 17.0 L136.0 17.5 L137.4 18.0 L138.8 18.6 L140.2 19.2 L141.6 19.8 L142.9 20.4 L144.3 21.1 L145.6 21.7 L146.9 22.4 L148.3 23.1 L149.6 23.8 L150.9 24.6 L152.2 25.3 L153.5 26.1 L154.8 26.8 L156.1 27.6 L157.4 28.4 L158.6 29.2 L159.9 30.0 L161.2 30.8 L162.4 31.6 L163.7 32.4 L164.9 33.3 L166.1 34.1 L167.4 35.0 L168.6 35.8 L169.8 36.7 L171.1 37.6 L172.3 38.4 L173.5 39.3 L174.7 40.2 L175.9 41.1 L177.1 42.0 L178.3 42.9 L179.4 43.9 L180.6 44.9 L181.7 45.8 L182.8 46.9 L183.9 47.9 L185.0 48.9 L186.0 50.0 L187.1 51.1 L188.1 52.2 L189.1 53.2 L190.2 54.3 L191.2 55.4 L192.2 56.5 L193.2 57.6 L194.2 58.7 L195.2 59.9 L196.2 61.0 L197.2 62.1 L198.1 63.3 L199.1 64.5 L200.0 65.6 L200.9 66.8 L201.8 68.0 L202.7 69.2 L203.6 70.4 L204.5 71.6 L205.4 72.8 L206.3 74.1 L207.2 75.3 L208.0 76.5 L208.9 77.7 L209.8 79.0 L210.6 80.2 L211.5 81.4 L212.3 82.7 L213.1 83.9 L214.0 85.2 L214.8 86.4 L215.6 87.7 L216.4 88.9 L217.3 90.2 L218.1 91.4 L218.9 92.7 L219.7 94.0 L220.4 95.3 L221.2 96.6 L222.0 97.8 L222.7 99.1 L223.5 100.4 L224.3 101.7 L225.0 103.0 L225.7 104.3 L226.4 105.6 L227.2 107.0 L227.9 108.3 L228.6 109.6 L229.3 110.9 L230.0 112.2 L230.7 113.6 L231.4 114.9 L232.2 116.2 L232.9 117.5 L233.6 118.9 L234.3 120.2 L235.0 121.5 L235.7 122.8 L236.4 124.1 L237.1 125.5 L237.8 126.8 L238.5 128.1 L239.2 129.5 L239.9 130.8 L240.6 132.1 L241.2 133.5 L241.9 134.8 L242.6 136.1 L243.3 137.5 L243.9 138.8 L244.6 140.2 L245.3 141.5 L245.9 142.9 L246.6 144.2 L247.2 145.6 L247.9 146.9 L248.5 148.3 L249.1 149.6 L249.7 151.0 L250.4 152.4 L251.0 153.8 L251.5 155.1 L252.1 156.5 L252.7 157.9 L253.3 159.3 L253.9 160.7 L254.4 162.1 L255.0 163.5 L255.5 164.8 L256.1 166.2 L256.6 167.6 L257.2 169.0 L257.7 170.4 L258.2 171.8 L258.8 173.2 L259.3 174.6 L259.8 176.1 L260.4 177.5 L260.9 178.9 L261.4 180.3 L261.9 181.7 L262.4 183.1 L262.9 184.5 L263.4 185.9 L263.9 187.3 L264.4 188.7 L265.0 190.1 L265.5 191.6 L266.0 193.0 L266.5 194.4 L267.0 195.8 L267.5 197.2 L268.0 198.6 L268.6 200.0 L269.1 201.4 L269.6 202.8 L270.1 204.3 L270.6 205.7 L271.0 207.1 L271.5 208.5 L271.9 210.0 L272.3 211.4 L272.7 212.8 L273.1 214.3 L273.4 215.8 L273.8 217.2 L274.1 218.7 L274.4 220.1 L274.7 221.6 L275.0 223.1 L275.3 224.6 L275.6 226.0 L275.9 227.5 L276.1 229.0 L276.4 230.5 L276.6 231.9 L276.9 233.4 L277.1 234.9 L277.3 236.4 L277.5 237.9 L277.7 239.4 L277.9 240.8 L278.1 242.3 L278.3 243.8 L278.5 245.3 L278.7 246.8 L278.8 248.3 L279.0 249.8 L279.1 251.3 L279.3 252.8 L279.4 254.3 L279.5 255.8 L279.7 257.3 L279.8 258.8 L279.9 260.2 L280.1 261.7 L280.2 263.2 L280.4 264.7 L280.5 266.2 L280.7 267.7 L280.8 269.2 L281.0 270.7 L281.2 272.2 L281.4 273.7 L281.6 275.1 L281.8 276.6 L282.1 278.1 L282.3 279.6 L282.5 281.1 L282.8 282.6 L283.0 284.0 L283.3 285.5 L283.5 287.0 L283.8 288.5 L284.0 290.0 L284.3 291.4 L284.5 292.9 L284.7 294.4 L284.9 295.9 L285.2 297.4 L285.4 298.9 L285.6 300.3 L285.8 301.8 L286.0 303.3 L286.3 304.8 L286.5 306.3 L286.7 307.8 L286.9 309.2 L287.1 310.7 L287.3 312.2 L287.6 313.7 L287.8 315.2 L288.0 316.7 L288.2 318.1 L288.4 319.6 L288.6 321.1 L288.8 322.6 L289.1 324.1 L289.3 325.6 L289.5 327.1 L289.7 328.5 L290.0 330.0 L290.2 331.5 L290.5 333.0 L290.8 334.5 L291.0 335.9 L291.4 337.4 L291.7 338.9 L292.0 340.4 L292.4 341.8 L292.7 343.3 L293.1 344.8 L293.6 346.2 L294.0 347.6 L294.5 349.0 L295.1 350.4 L295.9 351.9 L296.7 353.3 L297.5 354.5 L298.5 355.5 L299.6 356.2 L300.9 356.8 L302.4 357.3 L303.9 357.7 L305.4 357.9 L306.9 358.1 L308.3 358.2 L309.8 358.4 L311.3 358.5 L312.8 358.6 L314.3 358.7 L315.8 358.8 L317.3 358.9 L318.8 359.0 L320.3 359.0 L321.8 359.1 L323.3 359.1 L324.9 359.2 L326.4 359.2 L327.9 359.3 L329.4 359.3 L330.9 359.4 L332.4 359.4 L333.9 359.4 L335.4 359.5 L336.9 359.5 L338.4 359.5 L339.8 359.6 L341.3 359.6 L342.8 359.6 L344.3 359.7 L345.8 359.7 L347.3 359.7 L348.8 359.8 L350.3 359.8 L351.8 359.8 L353.3 359.8 L354.8 359.9 L356.3 359.9 L357.8 359.9 L359.3 359.9 L360.8 359.9 L362.3 360.0 L363.8 360.0 L365.3 360.0 L366.8 360.0 L368.3 360.1 L369.8 360.1 L371.3 360.1 L372.8 360.2 L374.3 360.2 L375.8 360.2 L377.3 360.2 L378.8 360.3 L380.3 360.3 L381.8 360.3 L383.3 360.4 L384.8 360.4 L386.3 360.4 L387.8 360.5 L389.3 360.5 L390.8 360.5 L392.3 360.6 L393.8 360.6 L395.3 360.6 L396.8 360.7 L398.3 360.7 L399.8 360.7 L401.3 360.8 L402.8 360.8 L404.3 360.8 L405.8 360.9 L407.3 360.9 L408.8 360.9 L410.3 360.9 L411.8 361.0 L413.3 361.0 L414.8 361.0 L416.3 361.1 L417.8 361.1 L419.3 361.1 L420.8 361.2 L422.3 361.2 L423.8 361.2 L425.3 361.3 L426.8 361.3 L428.3 361.3 L429.8 361.3 L431.3 361.4 L432.8 361.4 L434.3 361.4 L435.8 361.5 L437.3 361.5 L438.8 361.5 L440.3 361.5 L441.8 361.6 L443.3 361.6 L444.8 361.6 L446.3 361.6 L447.8 361.7 L449.3 361.7 L450.8 361.7 L452.3 361.7 L453.8 361.8 L455.3 361.8 L456.8 361.8 L458.3 361.8 L459.8 361.9 L461.3 361.9 L462.8 361.9 L464.3 361.9 L465.8 362.0 L467.3 362.0 L468.8 362.0 L470.3 362.0 L471.8 362.0 L473.3 362.1 L474.8 362.1 L476.2 362.1 L477.6 362.1 L478.9 362.1 L480.0 362.2 L480.9 362.2 L482.7 362.2"/>
</g>
<g font-size="17.4">
<text transform="translate(52.2 355.9) scale(0.9 1)" text-anchor="end">10</text>
<text transform="translate(52.2 318.3) scale(0.9 1)" text-anchor="end">20</text>
<text transform="translate(52.2 280.8) scale(0.9 1)" text-anchor="end">30</text>
<text transform="translate(52.2 243.3) scale(0.9 1)" text-anchor="end">40</text>
<text transform="translate(52.2 205.8) scale(0.9 1)" text-anchor="end">50</text>
<text transform="translate(52.2 168.2) scale(0.9 1)" text-anchor="end">60</text>
<text transform="translate(52.2 130.7) scale(0.9 1)" text-anchor="end">70</text>
<text transform="translate(52.2 93.2) scale(0.9 1)" text-anchor="end">80</text>
<text transform="translate(52.2 55.6) scale(0.9 1)" text-anchor="end">90</text>
<text transform="translate(52.2 18.1) scale(0.9 1)" text-anchor="end">100</text>
<text transform="translate(64.3 413.3) scale(0.88 1)" text-anchor="middle">0</text>
<text transform="translate(111.5 413.3) scale(0.88 1)" text-anchor="middle">100</text>
<text transform="translate(157.4 413.3) scale(0.88 1)" text-anchor="middle">200</text>
<text transform="translate(204.0 413.3) scale(0.88 1)" text-anchor="middle">300</text>
<text transform="translate(250.5 413.3) scale(0.88 1)" text-anchor="middle">400</text>
<text transform="translate(297.1 413.3) scale(0.88 1)" text-anchor="middle">500</text>
<text transform="translate(343.6 413.3) scale(0.88 1)" text-anchor="middle">600</text>
<text transform="translate(390.2 413.3) scale(0.88 1)" text-anchor="middle">700</text>
<text transform="translate(436.7 413.3) scale(0.88 1)" text-anchor="middle">800</text>
<text transform="translate(483.3 413.3) scale(0.88 1)" text-anchor="middle">900</text>
<text transform="translate(530.4 413.3) scale(0.88 1)" text-anchor="middle">1000</text>
</g>
<text font-size="19.5" x="298" y="444.4" text-anchor="middle">Temperature/°C</text>
<text font-size="19.8" transform="translate(19.2 200.4) rotate(-90)" text-anchor="middle">TG/%</text>
<rect x="382" y="8.4" width="124.6" height="120.4" fill="#fff" stroke="#222" stroke-width="1"/>
<g stroke-width="2.9" stroke-linecap="round">
<path stroke="#515151" d="M390.5 20.8 H426.8"/>
<path stroke="#F14040" d="M390.5 40.7 H426.8"/>
<path stroke="#1A6FDF" d="M390.5 60.6 H426.8"/>
<path stroke="#37AD6B" d="M390.5 80.5 H426.8"/>
<path stroke="#B177DE" d="M390.5 100.4 H426.8"/>
<path stroke="#CC9900" d="M390.5 120.3 H426.8"/>
</g>
<g font-size="17">
<text transform="translate(431 26.4) scale(0.93 1)">Crude oil 1</text>
<text transform="translate(431 46.3) scale(0.93 1)">Crude oil 2</text>
<text transform="translate(431 66.2) scale(0.93 1)">Crude oil 3</text>
<text transform="translate(431 86.1) scale(0.93 1)">Crude oil 4</text>
<text transform="translate(431 106.0) scale(0.93 1)">Crude oil 5</text>
<text transform="translate(431 125.9) scale(0.93 1)">Crude oil 6</text>
</g>
</svg></body></html>
